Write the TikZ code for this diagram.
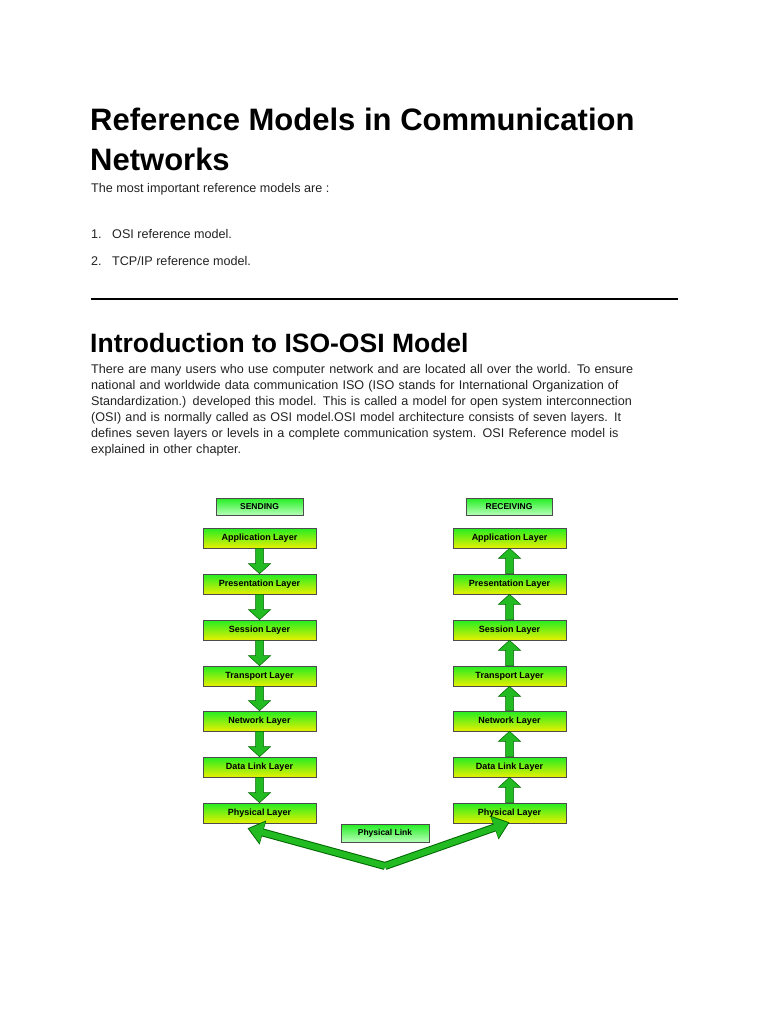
\documentclass[tikz,border=0pt]{standalone}
\usepackage{fontspec}
\setmainfont{Liberation Sans}
\usetikzlibrary{shadows,calc,arrows.meta}
\definecolor{txt}{HTML}{222222}
\definecolor{gA}{HTML}{22EE22}
\definecolor{gY}{HTML}{E8F000}
\definecolor{gL}{HTML}{B8FFB8}
\definecolor{ar}{HTML}{22BB22}
\begin{document}
\begin{tikzpicture}[x=1pt,y=-1pt,
  layer/.style={draw=black!70,line width=0.6pt,top color=gA,bottom color=gY,minimum width=113pt,minimum height=20pt,inner sep=0pt,font=\bfseries\fontsize{9}{10}\selectfont,drop shadow={shadow xshift=1pt,shadow yshift=-1pt,opacity=0.3}},
  tag/.style={draw=black!70,line width=0.6pt,top color=gA,bottom color=gL,minimum height=17pt,inner sep=0pt,font=\bfseries\fontsize{8.5}{9}\selectfont,drop shadow={shadow xshift=1pt,shadow yshift=-1pt,opacity=0.3}},
  body/.style={anchor=base west,inner sep=0pt,text=txt,font=\fontsize{12.6}{16}\selectfont},
  blk/.style={fill=ar,draw=green!40!black,line width=0.5pt},
  vout/.style={green!40!black,line width=8pt,-{Triangle[width=24pt,length=16pt]}},
  vin/.style={ar,line width=6pt,-{Triangle[width=21pt,length=14pt]}}]
\useasboundingbox (0,0) rectangle (768,1024);
\node[anchor=base west,inner sep=0pt,font=\bfseries\fontsize{31}{40}\selectfont] (t1) at (90,131) {Reference Models in Communication};
\node[anchor=base west,inner sep=0pt,font=\bfseries\fontsize{31}{40}\selectfont] (t2) at (90,171) {Networks};
\node[body] (p0) at (91,193) {The most important reference models are :};
\node[body] (n1) at (91,238) {1.}; \node[body] (l1) at (112,238) {OSI reference model.};
\node[body] (n2) at (91,265) {2.}; \node[body] (l2) at (112,265) {TCP/IP reference model.};
\draw[line width=1.8pt] (91,299) -- (678,299);
\node[anchor=base west,inner sep=0pt,font=\bfseries\fontsize{26.5}{34}\selectfont] (h2) at (90,352) {Introduction to ISO-OSI Model};
\node[body,anchor=north west,text width=620pt,align=left] (para) at (91,364) {There are many users who use computer network and are located all over the world. To ensure\\national and worldwide data communication ISO (ISO stands for International Organization of\\Standardization.) developed this model. This is called a model for open system interconnection\\(OSI) and is normally called as OSI model.OSI model architecture consists of seven layers. It\\defines seven layers or levels in a complete communication system. OSI Reference model is\\explained in other chapter.};
\node[tag,minimum width=87pt] (snd) at (259.5,506.5) {SENDING};
\node[tag,minimum width=86pt] (rcv) at (509,506.5) {RECEIVING};
\foreach \n/\t/\y in {1/Application Layer/538,2/Presentation Layer/584,3/Session Layer/630,4/Transport Layer/676,5/Network Layer/721,6/Data Link Layer/767,7/Physical Layer/813}{
  \node[layer] (L\n) at (259.5,\y) {\t};
  \node[layer] (R\n) at (509.5,\y) {\t};
}
\foreach \a/\b in {1/2,2/3,3/4,4/5,5/6,6/7}{
  \path (L\a.south) coordinate (ls) (L\b.north) coordinate (le);
  \filldraw[blk] ($(ls)+(-4,0)$) -- ($(ls)+(4,0)$) -- ($(le)+(4,-10)$) -- ($(le)+(11,-10)$) -- (le) -- ($(le)+(-11,-10)$) -- ($(le)+(-4,-10)$) -- cycle;
  \path (R\b.north) coordinate (rs) (R\a.south) coordinate (re);
  \filldraw[blk] ($(rs)+(-4,0)$) -- ($(rs)+(4,0)$) -- ($(re)+(4,10)$) -- ($(re)+(11,10)$) -- (re) -- ($(re)+(-11,10)$) -- ($(re)+(-4,10)$) -- cycle;
}
\node[tag,minimum width=88pt,minimum height=18pt] (pl) at (385,833) {Physical Link};
\coordinate (vb) at (385,866);
\coordinate (lt) at ($(L7.south)+(-12,5)$);
\coordinate (rt) at ($(R7.south)+(0,-1)$);
\draw[vout] (vb) -- (lt);
\draw[vout] (vb) -- (rt);
\draw[vin,shorten >=1.5pt] (vb) -- (lt);
\draw[vin,shorten >=1.5pt] (vb) -- (rt);
\end{tikzpicture}
\end{document}
